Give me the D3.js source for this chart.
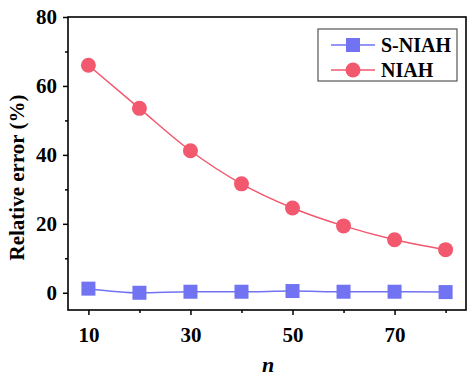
<!DOCTYPE html>
<html><head><meta charset="utf-8">
<script src="https://cdn.jsdelivr.net/npm/d3@7"></script>
<style>body{margin:0;background:#fff}svg{display:block}svg text{font-family:'Liberation Serif','Times New Roman','DejaVu Serif',serif !important;font-weight:bold}</style>
</head><body>
<script>
const nValues = [10, 20, 30, 40, 50, 60, 70, 80];
const sniah = [1.2, 0.0, 0.3, 0.3, 0.5, 0.3, 0.3, 0.2];
const niah = [66.0, 53.5, 41.2, 31.6, 24.6, 19.4, 15.4, 12.5];
const xTicks = [10, 30, 50, 70];
const yTicks = [0, 20, 40, 60, 80];
const seriesNames = ["S-NIAH", "NIAH"];
const colors = {"S-NIAH": "#7173F2", "NIAH": "#F2586E"};
const FONT = "'Liberation Serif','Times New Roman','DejaVu Serif',serif";

const W = 474, H = 380;
const L = 68, R = 466, T = 17, B = 310;
const svg = d3.select("body").append("svg").attr("width", W).attr("height", H);
const x = d3.scaleLinear().domain([6, 84]).range([L, R]);
const y = d3.scaleLinear().domain([-5, 80]).range([B, T]);

// axes
const yAx = svg.append("g").attr("transform", `translate(${L},0)`)
  .call(d3.axisLeft(y).tickValues(yTicks).tickSize(5).tickPadding(6).tickFormat(d3.format("d")));
const yMin = svg.append("g").attr("transform", `translate(${L},0)`)
  .call(d3.axisLeft(y).tickValues([10, 30, 50, 70]).tickSize(3).tickFormat(""));
const xAx = svg.append("g").attr("transform", `translate(0,${B})`)
  .call(d3.axisBottom(x).tickValues(xTicks).tickSize(5).tickPadding(12).tickFormat(d3.format("d")));
const xMin = svg.append("g").attr("transform", `translate(0,${B})`)
  .call(d3.axisBottom(x).tickValues([20, 40, 60, 80]).tickSize(3).tickFormat(""));
[yAx, yMin, xAx, xMin].forEach(g => {
  g.attr("font-family", FONT);
  g.select(".domain").remove();
  g.selectAll("line").attr("stroke", "#000").attr("stroke-width", 1.5);
  g.selectAll("text").attr("font-size", 21).attr("fill", "#000");
});

// frame
svg.append("rect").attr("x", L).attr("y", T).attr("width", R - L).attr("height", B - T)
  .attr("fill", "none").attr("stroke", "#000").attr("stroke-width", 1.6);

// lines
const line = d3.line().x((d, i) => x(nValues[i])).y(d => y(d)).curve(d3.curveMonotoneX);
svg.append("path").datum(sniah).attr("d", line).attr("fill", "none")
  .attr("stroke", colors["S-NIAH"]).attr("stroke-width", 1.5);
svg.append("path").datum(niah).attr("d", line).attr("fill", "none")
  .attr("stroke", colors["NIAH"]).attr("stroke-width", 1.5);

svg.append("g").selectAll("rect").data(sniah).join("rect")
  .attr("x", (d, i) => x(nValues[i]) - 7).attr("y", d => y(d) - 7)
  .attr("width", 14).attr("height", 14).attr("fill", colors["S-NIAH"]);
svg.append("g").selectAll("circle").data(niah).join("circle")
  .attr("cx", (d, i) => x(nValues[i])).attr("cy", d => y(d)).attr("r", 7.5)
  .attr("fill", colors["NIAH"]);

// legend
const lg = svg.append("g").attr("font-family", FONT);
lg.append("rect").attr("x", 318).attr("y", 29).attr("width", 139).attr("height", 52)
  .attr("fill", "#fff").attr("stroke", "#555").attr("stroke-width", 1.2);
seriesNames.forEach((s, i) => {
  const yy = 45 + i * 25;
  lg.append("line").attr("x1", 331).attr("x2", 375).attr("y1", yy).attr("y2", yy)
    .attr("stroke", colors[s]).attr("stroke-width", 1.5);
  if (i === 0) lg.append("rect").attr("x", 346).attr("y", yy - 7).attr("width", 14).attr("height", 14).attr("fill", colors[s]);
  else lg.append("circle").attr("cx", 353).attr("cy", yy).attr("r", 7.5).attr("fill", colors[s]);
  lg.append("text").attr("x", 381).attr("y", yy).attr("dy", "0.35em").attr("font-size", 20).text(s);
});

// axis titles
svg.append("text").attr("transform", `translate(24,${(T + B) / 2 + 14}) rotate(-90)`)
  .attr("font-family", FONT).attr("text-anchor", "middle").attr("font-size", 21).text("Relative error (%)");
svg.append("text").attr("x", 268).attr("y", 372).attr("text-anchor", "middle")
  .attr("font-family", FONT).attr("font-size", 22).attr("font-style", "italic").text("n");
</script>
</body></html>
